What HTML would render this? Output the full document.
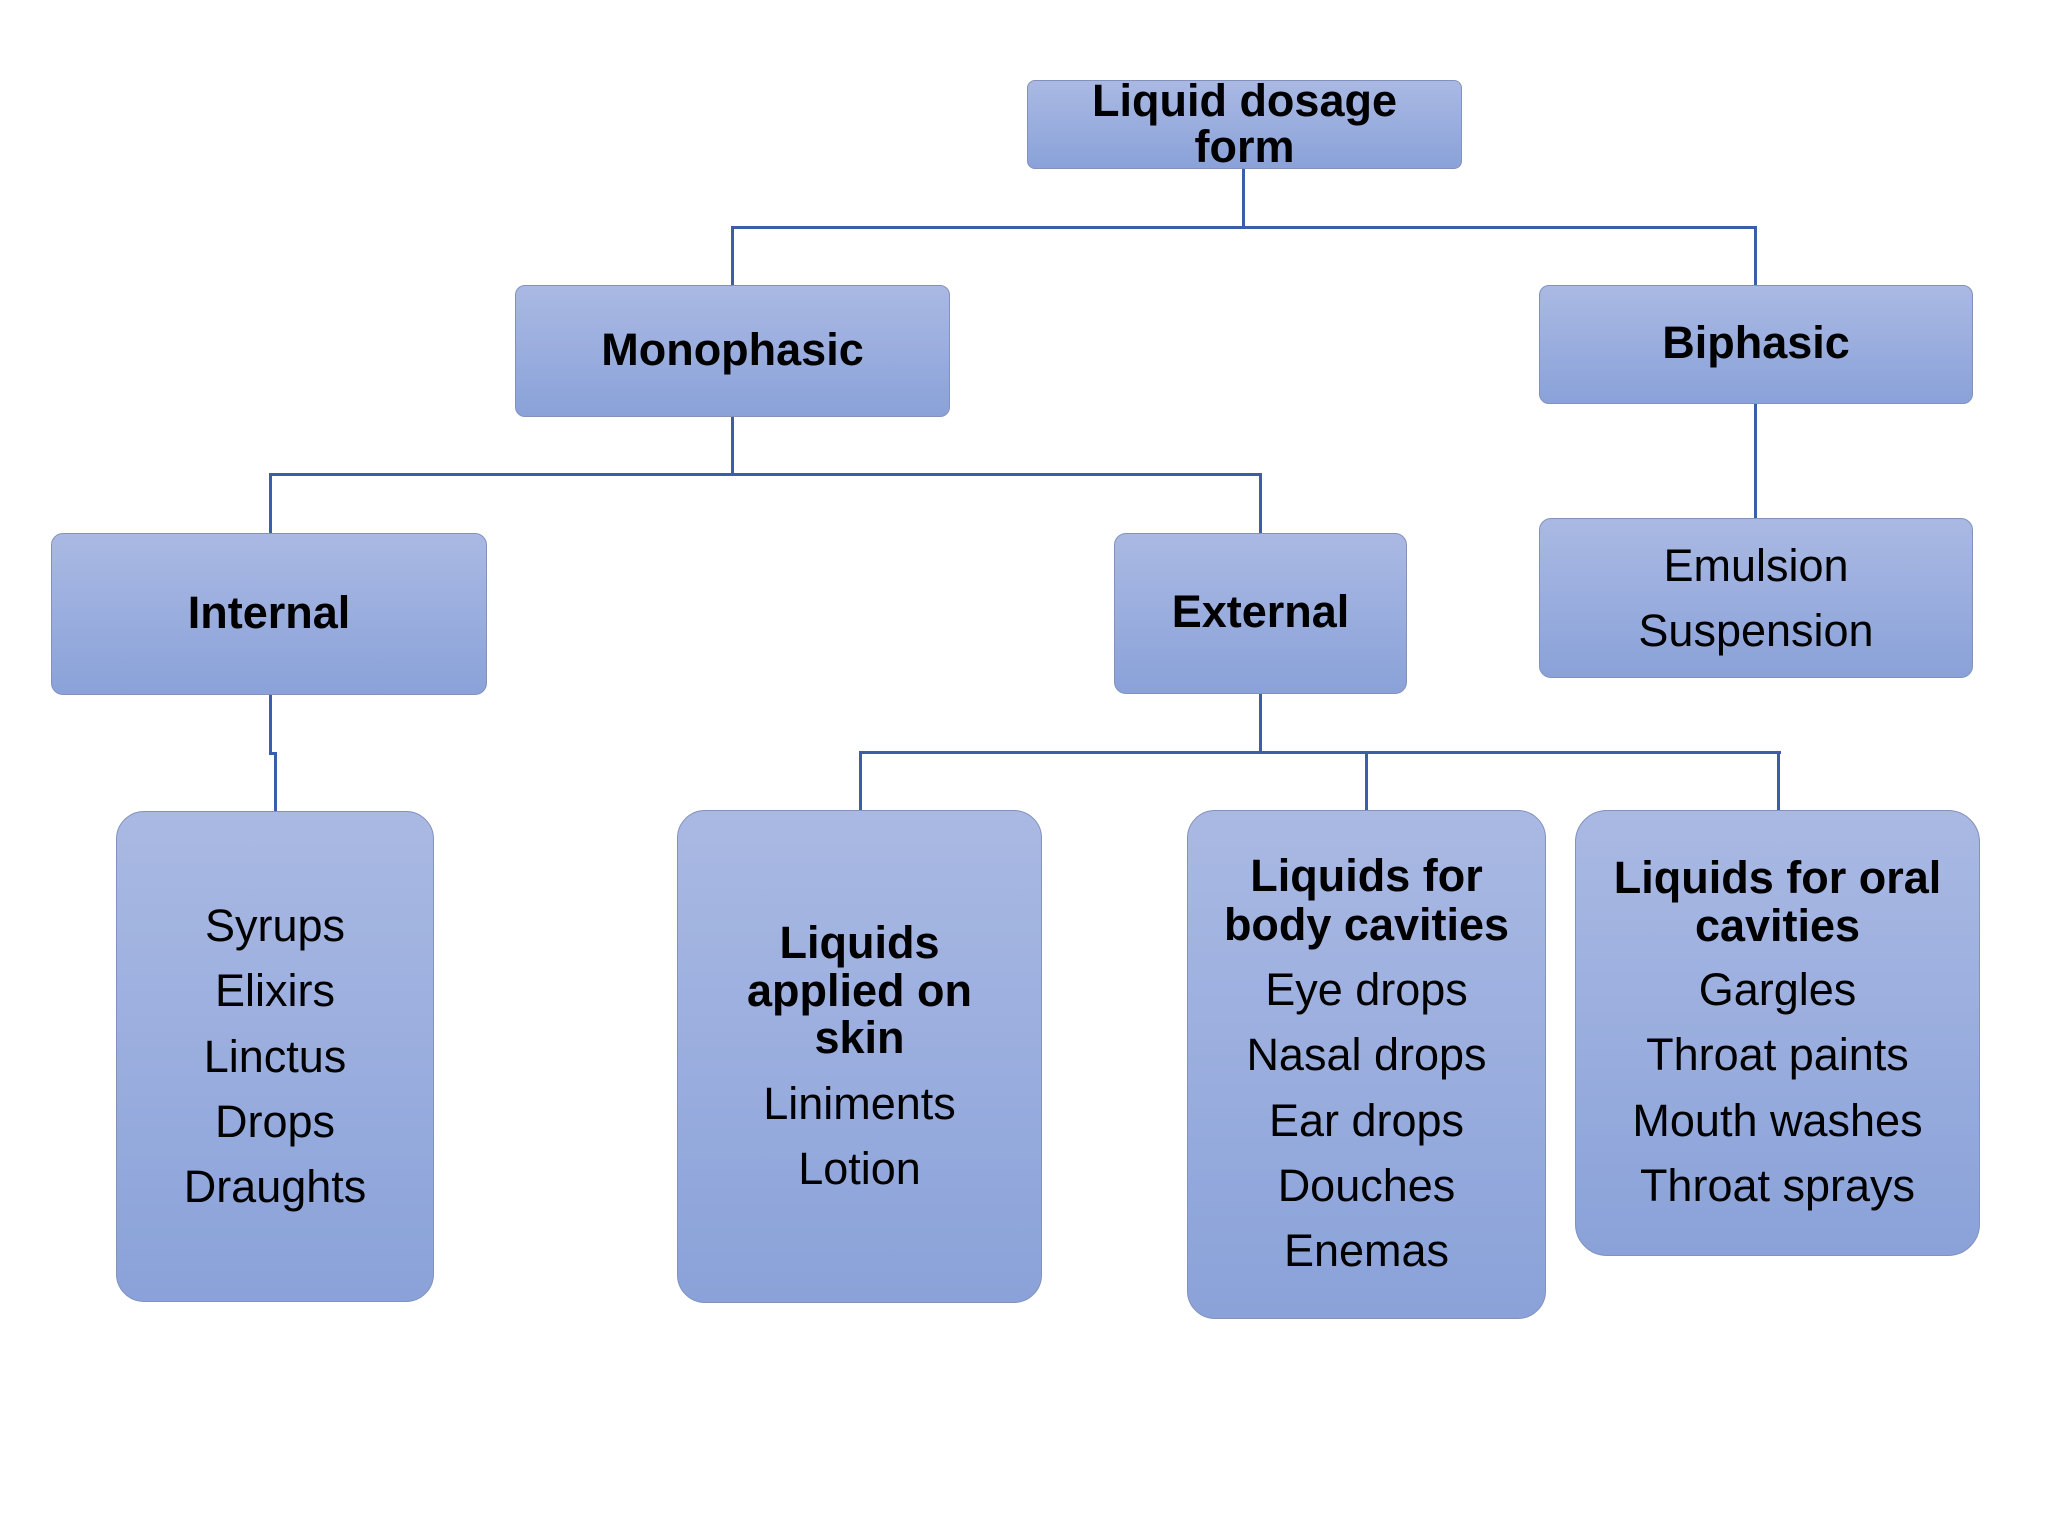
<!DOCTYPE html>
<html><head><meta charset="utf-8"><style>
body{margin:0;width:2048px;height:1536px;background:#fff;position:relative;overflow:hidden;font-family:"Liberation Sans",sans-serif;}
.b{position:absolute;box-sizing:border-box;border:1.5px solid #8391bb;background:linear-gradient(#aab9e3,#8aa2d9);}
.t{position:absolute;height:60px;line-height:60px;text-align:center;font-size:45px;color:#000;white-space:nowrap;}
.bd{font-weight:bold;}
.l{position:absolute;background:#3b5ea9;}
</style></head><body>
<!-- connectors -->
<div class="l" style="left:1242px;top:168px;width:3px;height:60px"></div>
<div class="l" style="left:731px;top:226px;width:1026px;height:3px"></div>
<div class="l" style="left:731px;top:226px;width:3px;height:60px"></div>
<div class="l" style="left:1754px;top:226px;width:3px;height:60px"></div>
<div class="l" style="left:1754px;top:404px;width:3px;height:115px"></div>
<div class="l" style="left:731px;top:417px;width:3px;height:58px"></div>
<div class="l" style="left:269px;top:473px;width:992px;height:3px"></div>
<div class="l" style="left:269px;top:473px;width:3px;height:61px"></div>
<div class="l" style="left:1259px;top:473px;width:3px;height:61px"></div>
<div class="l" style="left:269px;top:695px;width:3px;height:60px"></div>
<div class="l" style="left:269px;top:752px;width:7px;height:3px"></div>
<div class="l" style="left:274px;top:752px;width:3px;height:60px"></div>
<div class="l" style="left:1259px;top:694px;width:3px;height:59px"></div>
<div class="l" style="left:859px;top:751px;width:922px;height:3px"></div>
<div class="l" style="left:859px;top:751px;width:3px;height:60px"></div>
<div class="l" style="left:1365px;top:751px;width:3px;height:60px"></div>
<div class="l" style="left:1777px;top:751px;width:3px;height:60px"></div>
<!-- boxes -->
<div class="b" style="left:1027px;top:80px;width:435px;height:89px;border-radius:8px"></div>
<div class="t bd" style="left:1027px;width:435px;top:71px">Liquid dosage</div>
<div class="t bd" style="left:1027px;width:435px;top:117px">form</div>

<div class="b" style="left:515px;top:285px;width:435px;height:132px;border-radius:10px"></div>
<div class="t bd" style="left:515px;width:435px;top:320px">Monophasic</div>

<div class="b" style="left:1539px;top:285px;width:434px;height:119px;border-radius:10px"></div>
<div class="t bd" style="left:1539px;width:434px;top:313px">Biphasic</div>

<div class="b" style="left:1539px;top:518px;width:434px;height:160px;border-radius:12px"></div>
<div class="t" style="left:1539px;width:434px;top:536px">Emulsion</div>
<div class="t" style="left:1539px;width:434px;top:601px">Suspension</div>

<div class="b" style="left:51px;top:533px;width:436px;height:162px;border-radius:12px"></div>
<div class="t bd" style="left:51px;width:436px;top:583px">Internal</div>

<div class="b" style="left:1114px;top:533px;width:293px;height:161px;border-radius:12px"></div>
<div class="t bd" style="left:1114px;width:293px;top:582px">External</div>

<div class="b" style="left:116px;top:811px;width:318px;height:491px;border-radius:28px"></div>
<div class="t" style="left:116px;width:318px;top:896px">Syrups</div>
<div class="t" style="left:116px;width:318px;top:961px">Elixirs</div>
<div class="t" style="left:116px;width:318px;top:1027px">Linctus</div>
<div class="t" style="left:116px;width:318px;top:1092px">Drops</div>
<div class="t" style="left:116px;width:318px;top:1157px">Draughts</div>

<div class="b" style="left:677px;top:810px;width:365px;height:493px;border-radius:28px"></div>
<div class="t bd" style="left:677px;width:365px;top:913px">Liquids</div>
<div class="t bd" style="left:677px;width:365px;top:961px">applied on</div>
<div class="t bd" style="left:677px;width:365px;top:1008px">skin</div>
<div class="t" style="left:677px;width:365px;top:1074px">Liniments</div>
<div class="t" style="left:677px;width:365px;top:1139px">Lotion</div>

<div class="b" style="left:1187px;top:810px;width:359px;height:509px;border-radius:28px"></div>
<div class="t bd" style="left:1187px;width:359px;top:846px">Liquids for</div>
<div class="t bd" style="left:1187px;width:359px;top:895px">body cavities</div>
<div class="t" style="left:1187px;width:359px;top:960px">Eye drops</div>
<div class="t" style="left:1187px;width:359px;top:1025px">Nasal drops</div>
<div class="t" style="left:1187px;width:359px;top:1091px">Ear drops</div>
<div class="t" style="left:1187px;width:359px;top:1156px">Douches</div>
<div class="t" style="left:1187px;width:359px;top:1221px">Enemas</div>

<div class="b" style="left:1575px;top:810px;width:405px;height:446px;border-radius:32px"></div>
<div class="t bd" style="left:1575px;width:405px;top:848px">Liquids for oral</div>
<div class="t bd" style="left:1575px;width:405px;top:896px">cavities</div>
<div class="t" style="left:1575px;width:405px;top:960px">Gargles</div>
<div class="t" style="left:1575px;width:405px;top:1025px">Throat paints</div>
<div class="t" style="left:1575px;width:405px;top:1091px">Mouth washes</div>
<div class="t" style="left:1575px;width:405px;top:1156px">Throat sprays</div>
</body></html>
